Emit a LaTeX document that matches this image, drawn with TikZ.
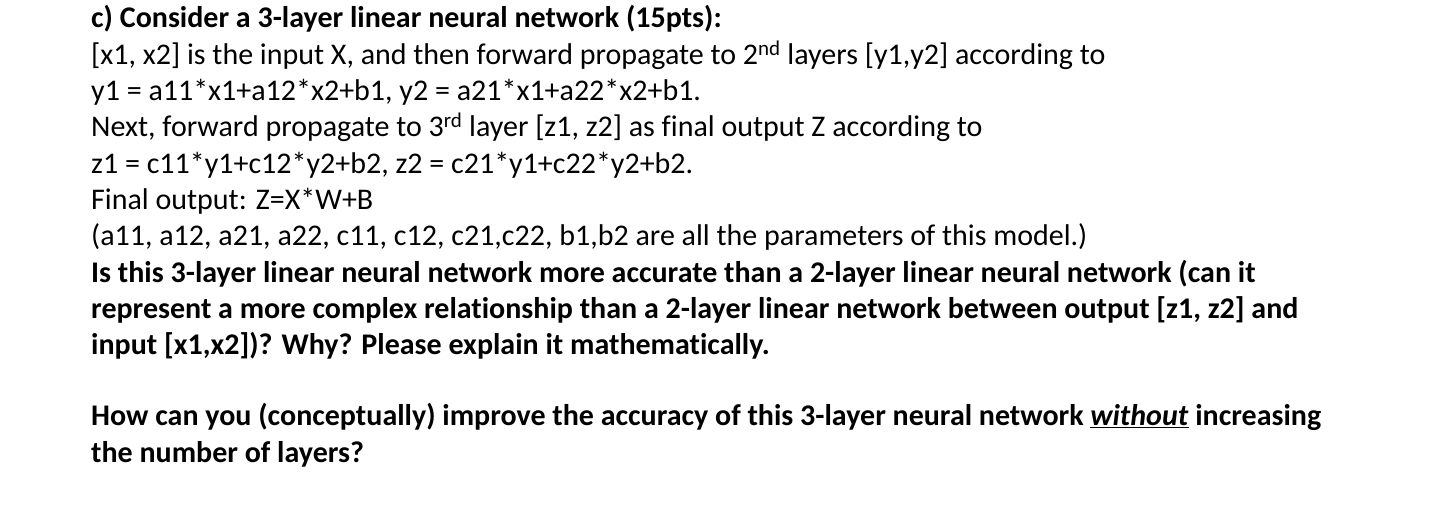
\documentclass[tikz,border=0pt]{standalone}
\usepackage{fontspec}
\setmainfont{Carlito}[Ligatures={NoCommon}]
\begin{document}
\begin{tikzpicture}[x=1pt,y=1pt,
  txt/.style={anchor=base west,inner sep=0pt,font=\fontsize{30}{34}\selectfont}]
\useasboundingbox (0,0) rectangle (1440,506);
\node[txt] (l1) at (91,478) {\textbf{c) Consider a 3-layer linear neural network (15pts):}};
\node[txt] (l2) at (91,441.7) {[x1, x2] is the input X, and then forward propagate to 2\textsuperscript{nd} layers [y1,y2] according to};
\node[txt] (l3) at (91,405.4) {y1 = a11*x1+a12*x2+b1, y2 = a21*x1+a22*x2+b1.};
\node[txt] (l4) at (91,369.1) {Next, forward propagate to 3\textsuperscript{rd} layer [z1, z2] as final output Z according to};
\node[txt] (l5) at (91,332.8) {z1 = c11*y1+c12*y2+b2, z2 = c21*y1+c22*y2+b2.};
\node[txt] (l6) at (91,296.5) {Final output: Z=X*W+B};
\node[txt] (l7) at (91,260.2) {(a11, a12, a21, a22, c11, c12, c21,c22, b1,b2 are all the parameters of this model.)};
\node[txt] (l8) at (91,223.9) {\textbf{Is this 3-layer linear neural network more accurate than a 2-layer linear neural network (can it}};
\node[txt] (l9) at (91,187.6) {\textbf{represent a more complex relationship than a 2-layer linear network between output [z1, z2] and}};
\node[txt] (l10) at (91,151.3) {\textbf{input [x1,x2])? Why? Please explain it mathematically.}};
\node[txt] (l11) at (91,80) {\textbf{How can you (conceptually) improve the accuracy of this 3-layer neural network \underline{\textit{without}} increasing}};
\node[txt] (l12) at (91,44) {\textbf{the number of layers?}};
\end{tikzpicture}
\end{document}
